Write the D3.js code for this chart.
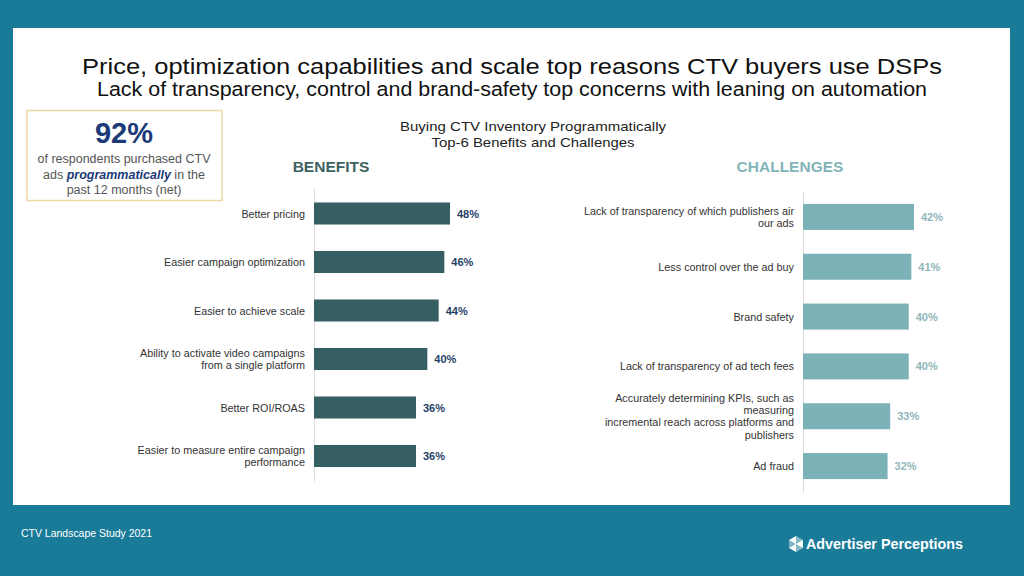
<!DOCTYPE html>
<html>
<head>
<meta charset="utf-8">
<script src="https://cdn.jsdelivr.net/npm/d3@7"></script>
<style>
  html, body { margin: 0; padding: 0; background: #1a7b99; }
  svg { display: block; font-family: "Liberation Sans", Arial, sans-serif; }
</style>
</head>
<body>
<svg width="1024" height="576"></svg>
<script>
const benefitLabels = [
  'Better pricing',
  'Easier campaign optimization',
  'Easier to achieve scale',
  'Ability to activate video campaigns\nfrom a single platform',
  'Better ROI/ROAS',
  'Easier to measure entire campaign\nperformance'
];
const benefitValues = [48, 46, 44, 40, 36, 36];

const challengeLabels = [
  'Lack of transparency of which publishers air\nour ads',
  'Less control over the ad buy',
  'Brand safety',
  'Lack of transparency of ad tech fees',
  'Accurately determining KPIs, such as\nmeasuring\nincremental reach across platforms and\npublishers',
  'Ad fraud'
];
const challengeValues = [42, 41, 40, 40, 33, 32];

const titleText = 'Price, optimization capabilities and scale top reasons CTV buyers use DSPs';
const subtitleText = 'Lack of transparency, control and brand-safety top concerns with leaning on automation';
const chartTitleLines = ['Buying CTV Inventory Programmatically', 'Top-6 Benefits and Challenges'];
const calloutValue = '92%';
const footerText = 'CTV Landscape Study 2021';

const svg = d3.select('svg');

// background + white panel
svg.append('rect').attr('width', 1024).attr('height', 576).attr('fill', '#1a7b99');
svg.append('rect').attr('x', 13).attr('y', 28).attr('width', 997).attr('height', 477)
    .attr('fill', '#ffffff');

// titles
svg.append('text').attr('x', 512).attr('y', 74).attr('text-anchor', 'middle')
    .attr('font-size', 22).attr('fill', '#111')
    .attr('textLength', 860).attr('lengthAdjust', 'spacingAndGlyphs')
    .text(titleText);
svg.append('text').attr('x', 512).attr('y', 96).attr('text-anchor', 'middle')
    .attr('font-size', 19.5).attr('fill', '#111')
    .attr('textLength', 830).attr('lengthAdjust', 'spacingAndGlyphs')
    .text(subtitleText);

// callout box
const box = svg.append('g');
box.append('rect').attr('x', 27).attr('y', 110.5).attr('width', 195).attr('height', 90)
    .attr('fill', '#fff').attr('stroke', '#f0d8a6').attr('stroke-width', 1.5);
box.append('text').attr('x', 124).attr('y', 143).attr('text-anchor', 'middle')
    .attr('font-size', 29).attr('font-weight', 'bold').attr('fill', '#1c3a78')
    .text(calloutValue);
const cl = box.append('g').attr('font-size', 12.5).attr('fill', '#555').attr('text-anchor', 'middle');
cl.append('text').attr('x', 124).attr('y', 163).text('of respondents purchased CTV');
const l2 = cl.append('text').attr('x', 124).attr('y', 178.5);
l2.append('tspan').text('ads ');
l2.append('tspan').attr('font-weight', 'bold').attr('font-style', 'italic').attr('fill', '#1c3a78')
    .text('programmatically');
l2.append('tspan').text('  in the');
cl.append('text').attr('x', 124).attr('y', 194).text('past 12 months  (net)');

// chart title
const chartTitleWidths = [266, 203];
svg.append('g').selectAll('text').data(chartTitleLines).join('text')
    .attr('x', 533).attr('y', (d, i) => 131 + i * 16)
    .attr('text-anchor', 'middle').attr('font-size', 13.5).attr('fill', '#222')
    .attr('textLength', (d, i) => chartTitleWidths[i]).attr('lengthAdjust', 'spacingAndGlyphs')
    .text(d => d);

function drawPanel(opts) {
    const { labels, values, x0, x1, vmax, yTop, yBot, pad, barColor, valColor, headColor, head, headX, axisTop, axisBot } = opts;
    const g = svg.append('g');

    const x = d3.scaleLinear().domain([0, vmax]).range([x0, x1]);
    const y = d3.scaleBand().domain(labels).range([yTop, yBot])
        .paddingInner(pad).paddingOuter(pad / 2);

    g.append('text').attr('x', headX).attr('y', 171.5).attr('text-anchor', 'middle')
        .attr('font-size', 15.5).attr('font-weight', 'bold').attr('fill', headColor)
        .text(head);

    // axis line
    const yAxis = d3.axisLeft(d3.scaleLinear().domain([0, 1]).range([axisBot, axisTop]))
        .ticks(0).tickSize(0).tickSizeOuter(0);
    g.append('g').attr('transform', `translate(${x0},0)`).call(yAxis)
        .select('.domain').attr('stroke', '#dcdcdc');

    g.selectAll('rect.bar').data(values).join('rect')
        .attr('class', 'bar')
        .attr('x', x(0))
        .attr('y', (d, i) => y(labels[i]))
        .attr('width', d => x(d) - x(0))
        .attr('height', y.bandwidth())
        .attr('fill', barColor);

    g.selectAll('text.val').data(values).join('text')
        .attr('class', 'val')
        .attr('x', d => x(d) + 7)
        .attr('y', (d, i) => y(labels[i]) + y.bandwidth() / 2 + 4)
        .attr('font-size', 11).attr('font-weight', 'bold').attr('fill', valColor)
        .text(d => d + '%');

    labels.forEach((lab, i) => {
        const lines = lab.split('\n');
        const cy = y(lab) + y.bandwidth() / 2;
        const lh = 12.4;
        const t = g.append('text').attr('text-anchor', 'end').attr('font-size', 10.8).attr('fill', '#333');
        lines.forEach((ln, j) => {
            t.append('tspan').attr('x', x0 - 9)
                .attr('y', cy + 4 + (j - (lines.length - 1) / 2) * lh)
                .text(ln);
        });
    });
}

drawPanel({
    labels: benefitLabels, values: benefitValues,
    x0: 314, x1: 450, vmax: 48,
    yTop: 189.25, yBot: 480.25, pad: 0.546,
    barColor: '#365f63', valColor: '#1f3f66', headColor: '#3d6163',
    head: 'BENEFITS', headX: 331, axisTop: 188, axisBot: 481
});

drawPanel({
    labels: challengeLabels, values: challengeValues,
    x0: 803, x1: 914, vmax: 42,
    yTop: 192, yBot: 491, pad: 0.478,
    barColor: '#7bb2b7', valColor: '#8fb6ba', headColor: '#82b4b9',
    head: 'CHALLENGES', headX: 790, axisTop: 191, axisBot: 492
});

// footer
svg.append('text').attr('x', 21).attr('y', 537).attr('font-size', 10).attr('fill', '#fff')
    .attr('textLength', 131).attr('lengthAdjust', 'spacingAndGlyphs')
    .text(footerText);

// logo
const logo = svg.append('g').attr('transform', 'translate(796,544)');
const hex = d3.range(6).map(k => [8 * Math.cos(Math.PI / 3 * k - Math.PI / 2), 8 * Math.sin(Math.PI / 3 * k - Math.PI / 2)]);
logo.append('polygon').attr('points', hex.map(p => p.join(',')).join(' ')).attr('fill', '#fff');
[[0, 1], [2, 3], [4, 5]].forEach(([a, b]) => {
    logo.append('polygon').attr('points', [[0, 0], hex[a], hex[b]].map(p => p.join(',')).join(' '))
        .attr('fill', '#1a7b99').attr('opacity', 0.55);
});
svg.append('text').attr('x', 806).attr('y', 549).attr('font-size', 15).attr('font-weight', 'bold')
    .attr('fill', '#fff').attr('textLength', 157).attr('lengthAdjust', 'spacingAndGlyphs')
    .text('Advertiser Perceptions');
</script>
</body>
</html>
